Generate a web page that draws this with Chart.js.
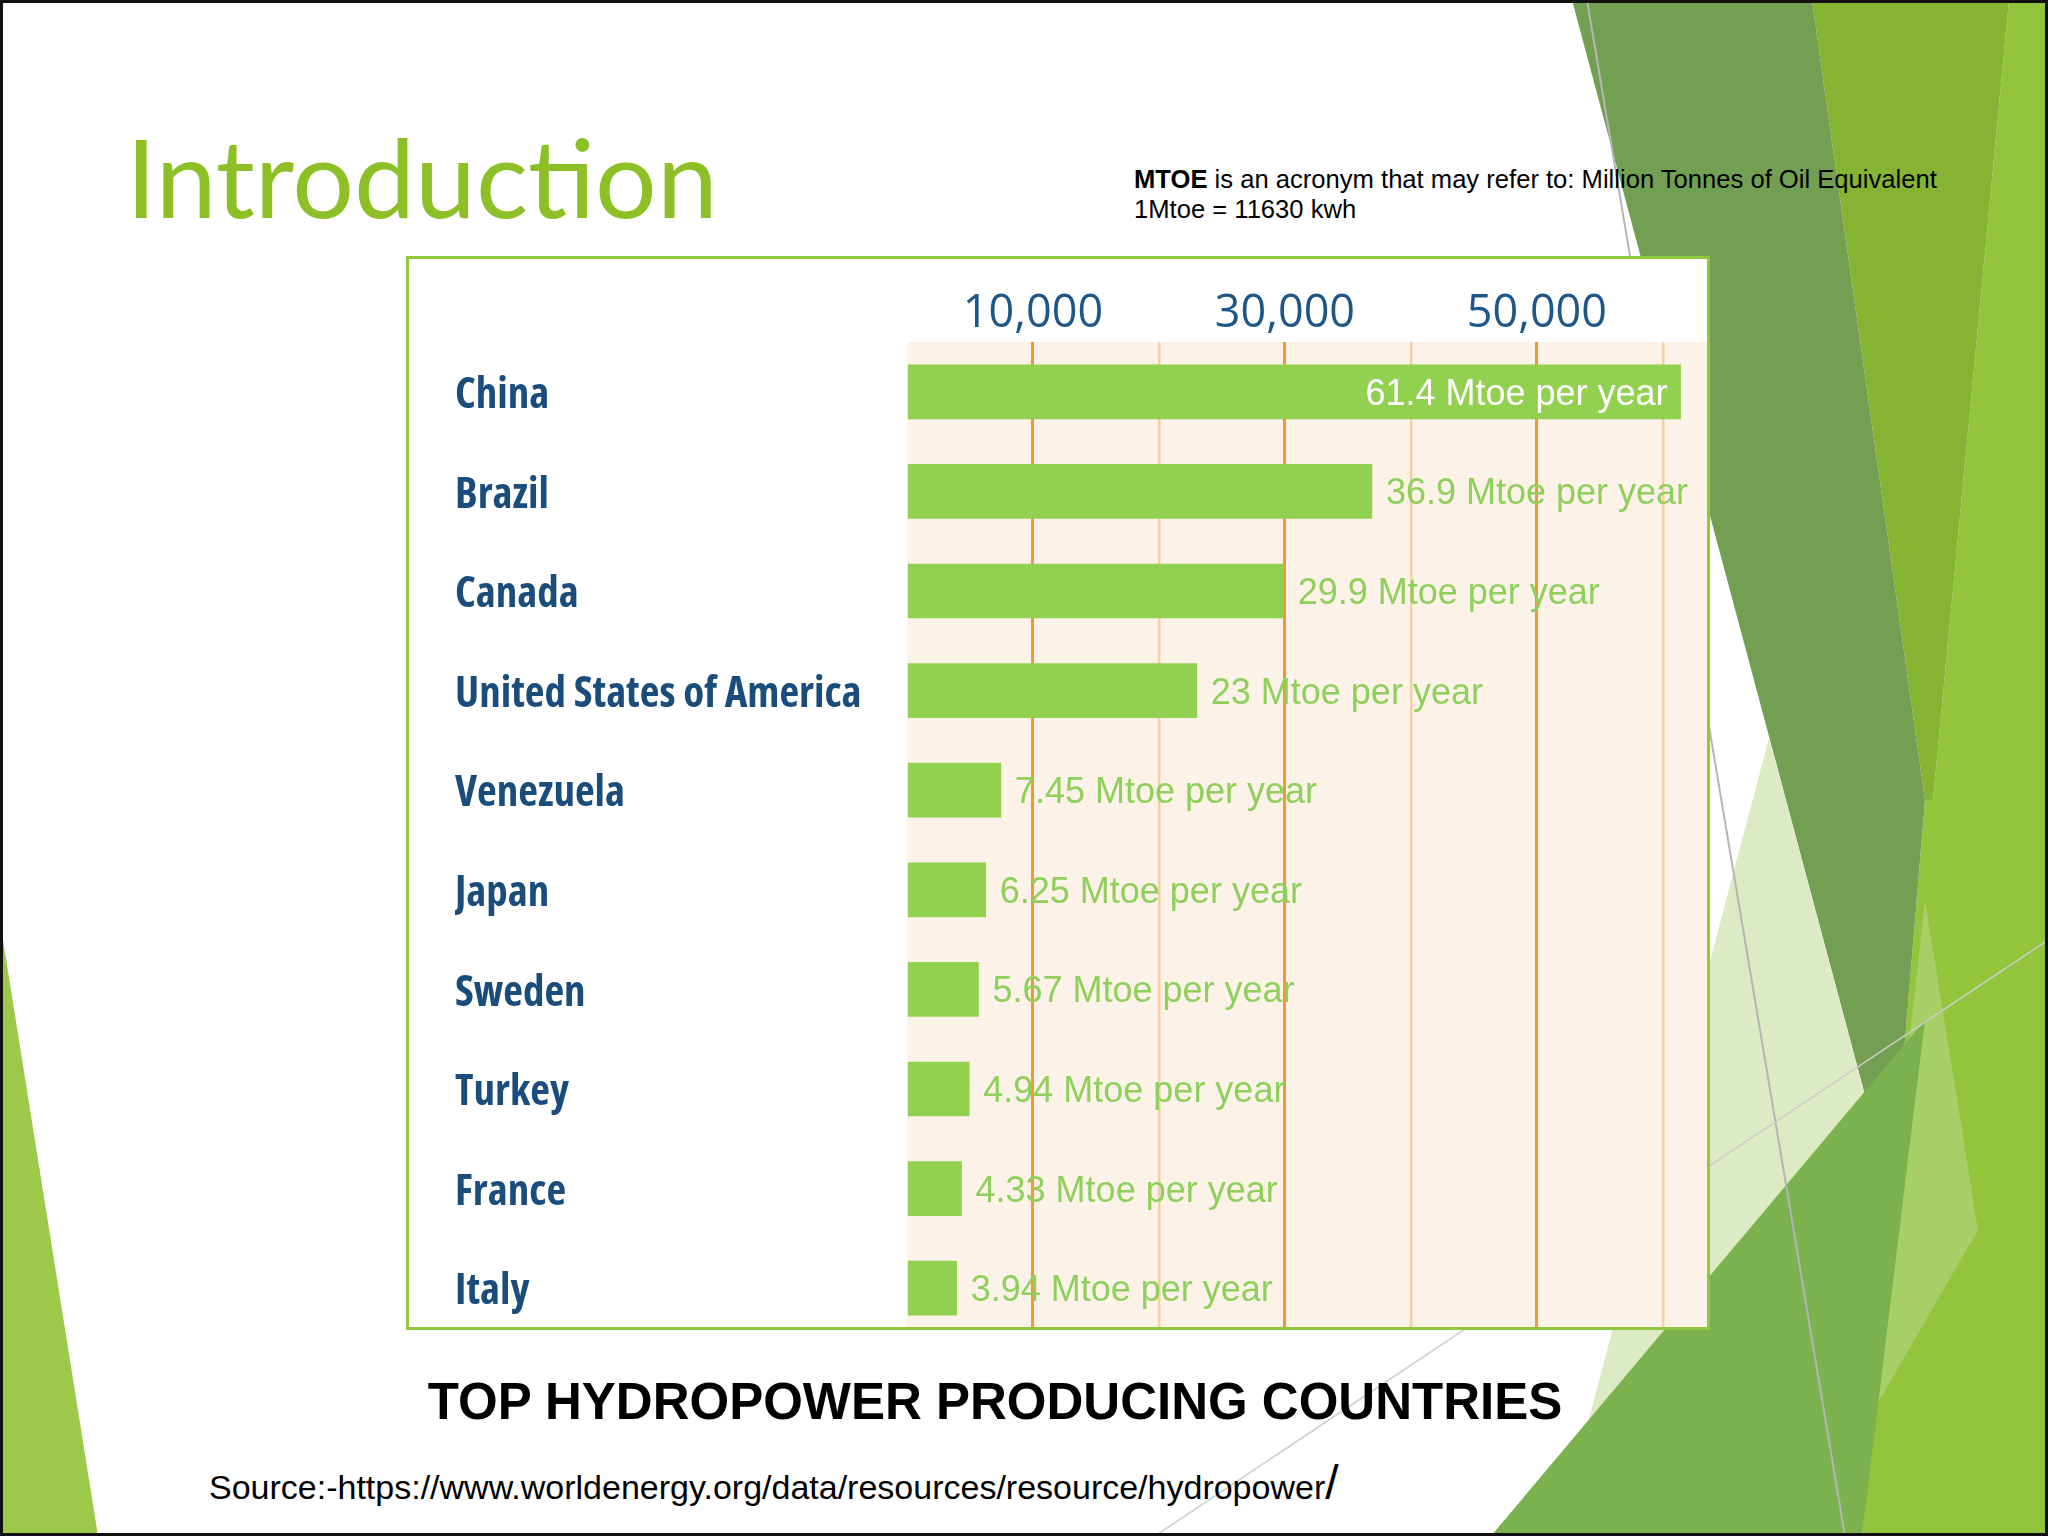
<!DOCTYPE html>
<html>
<head>
<meta charset="utf-8">
<script src="https://cdn.jsdelivr.net/npm/chart.js@4.4.0/dist/chart.umd.min.js"></script>
<style>
  html, body { margin: 0; padding: 0; background: #fff; }
  body { width: 2048px; height: 1536px; position: relative; overflow: hidden; }
  #slide { position: absolute; left: 0; top: 0; }
  #chartBox { position: absolute; left: 406px; top: 256px; width: 1298px; height: 1068px;
              border: 3px solid #92c83e; background: #fff; overflow: hidden; }
  #chartWrap { position: relative; width: 1298px; height: 1079px; }
  #frame { position: absolute; left: 0; top: 0; width: 2042px; height: 1530px;
           border: 3px solid #111; pointer-events: none; }
</style>
</head>
<body>
<svg id="slide" width="2048" height="1536" viewBox="0 0 2048 1536">
  <!-- facet theme shapes -->
  <polygon points="0,921 98,1536 0,1536" fill="#9dc94b"/>
  <polygon points="2009,0 2048,0 2048,1536 1862,1536 1892,1196 1925,800 1933,800" fill="#92c43c"/>
  <polygon points="1812,0 2009,0 1933,800 1925,800" fill="#84b432"/>
  <polygon points="1572,0 1812,0 1925,800 1892,1196" fill="#739f53"/>
  <polygon points="1769,738 1892,1196 1700,1536 1558,1536" fill="#dcebc3"/>
  <polygon points="1925,900 1978,1230 1868,1420 1892,1196" fill="#a6cf68"/>
  <polygon points="1491,1536 1925,1020 1862,1536" fill="#7bb24d"/>
  <line x1="1587" y1="0" x2="1845" y2="1536" stroke="#b5b5b5" stroke-width="2"/>
  <line x1="1155" y1="1536" x2="2048" y2="940" stroke="#cccccc" stroke-width="1.5"/>

  <text x="126" y="218" font-family="Lato, sans-serif" font-size="109" fill="#8dc026">Introduction</text>
  <text x="1134" y="188" font-family="'Liberation Sans', Arial, sans-serif" font-size="25.6" fill="#000"><tspan font-weight="bold">MTOE</tspan> is an acronym that may refer to: Million Tonnes of Oil Equivalent</text>
  <text x="1134" y="218" font-family="'Liberation Sans', Arial, sans-serif" font-size="25.6" fill="#000">1Mtoe = 11630 kwh</text>
  <text x="995" y="1419" text-anchor="middle" font-family="'Liberation Sans', Arial, sans-serif" font-size="51" font-weight="bold" fill="#000">TOP HYDROPOWER PRODUCING COUNTRIES</text>
  <text x="209" y="1499" font-family="'Liberation Sans', Arial, sans-serif" font-size="34" fill="#000">Source:-https://www.worldenergy.org/data/resources/resource/hydropower<tspan font-size="48">/</tspan></text>
</svg>

<div id="chartBox">
  <div id="chartWrap"><canvas id="hydroChart"></canvas></div>
</div>
<div id="frame"></div>

<script>
const countries = ["China", "Brazil", "Canada", "United States of America", "Venezuela",
                   "Japan", "Sweden", "Turkey", "France", "Italy"];
const mtoe = [61.4, 36.9, 29.9, 23, 7.45, 6.25, 5.67, 4.94, 4.33, 3.94];
const tickValues = [10, 30, 50];
const tickLabels = ["10,000", "30,000", "50,000"];
const valueSuffix = " Mtoe per year";

// the country names use a condensed bold face; take the narrowest one installed
function pickCondensedFont(text, targetWidth, maxSize) {
  const c = document.createElement("canvas").getContext("2d");
  const candidates = [
    { family: '"Liberation Sans Narrow"', weight: "bold" },
    { family: '"Open Sans"', weight: "condensed bold" },
    { family: '"Noto Sans"', weight: "condensed bold" },
    { family: '"DejaVu Sans Condensed"', weight: "bold" },
    { family: '"DejaVu Sans"', weight: "condensed bold" }
  ];
  let best = null;
  candidates.forEach(f => {
    c.font = "10px serif";
    c.font = f.weight + " 100px " + f.family;
    if (c.font === "10px serif") return;
    const w = c.measureText(text).width / 100;
    if (!best || w < best.ratio) best = { ...f, ratio: w };
  });
  const size = Math.min(maxSize, Math.floor(targetWidth / best.ratio));
  return { family: best.family + ", sans-serif", weight: best.weight, size };
}
const countryFont = pickCondensedFont("United States of America", 407, 44);

// peach fill behind the bars
const plotBackground = {
  id: "plotBackground",
  beforeDraw(chart) {
    const { ctx, chartArea: a } = chart;
    ctx.save();
    ctx.fillStyle = "#fdf2e7";
    ctx.fillRect(a.left, a.top, a.right - a.left, a.bottom - a.top);
    ctx.restore();
  }
};

// "xx Mtoe per year" next to (or inside) each bar
const valueLabels = {
  id: "valueLabels",
  afterDatasetsDraw(chart) {
    const { ctx, chartArea } = chart;
    const bars = chart.getDatasetMeta(0).data;
    ctx.save();
    ctx.font = '36px "Liberation Sans", Arial, sans-serif';
    ctx.textBaseline = "middle";
    bars.forEach((bar, i) => {
      const text = mtoe[i] + valueSuffix;
      const w = ctx.measureText(text).width;
      const y = bar.y + 3;
      if (bar.x + 14 + w > chartArea.right) {
        ctx.fillStyle = "#ffffff";
        ctx.textAlign = "right";
        ctx.fillText(text, bar.x - 13, y);
      } else {
        ctx.fillStyle = "#8fd05c";
        ctx.textAlign = "left";
        ctx.fillText(text, bar.x + 14, y);
      }
    });
    ctx.restore();
  }
};

new Chart(document.getElementById("hydroChart"), {
  type: "bar",
  data: {
    labels: countries,
    datasets: [{
      data: mtoe,
      backgroundColor: "#92d050",
      borderWidth: 0,
      barThickness: 54
    }]
  },
  options: {
    indexAxis: "y",
    responsive: true,
    maintainAspectRatio: false,
    animation: false,
    layout: { padding: { left: 46, top: 0, right: 0, bottom: 0 } },
    plugins: {
      legend: { display: false },
      tooltip: { enabled: false }
    },
    scales: {
      x: {
        position: "top",
        min: 0,
        max: 63.5,
        border: { display: false },
        grid: {
          drawTicks: false,
          color: c => {
            const v = c.tick ? c.tick.value : 0;
            if (v === 0) return "rgba(0,0,0,0)";
            return v % 20 === 10 ? "#ee9a33" : "#f6cfa5";
          },
          lineWidth: c => (c.tick && c.tick.value % 20 === 10 ? 3 : 2.5)
        },
        ticks: {
          stepSize: 10,
          includeBounds: false,
          autoSkip: false,
          maxRotation: 0,
          padding: 1,
          color: "#1e5688",
          font: { family: '"Open Sans", sans-serif', size: 45 },
          callback: value => {
            const i = tickValues.indexOf(value);
            return i >= 0 ? tickLabels[i] : "";
          }
        },
        afterFit: s => { s.height = 83; }
      },
      y: {
        border: { display: false },
        grid: { display: false },
        ticks: {
          crossAlign: "far",
          autoSkip: false,
          padding: 0,
          labelOffset: 4,
          color: "#1b4d7c",
          font: countryFont
        },
        afterFit: s => {
          s.width = 452;
          s.paddingTop = 0;
          s.paddingBottom = 0;
        }
      }
    }
  },
  plugins: [plotBackground, valueLabels]
});
</script>
</body>
</html>
